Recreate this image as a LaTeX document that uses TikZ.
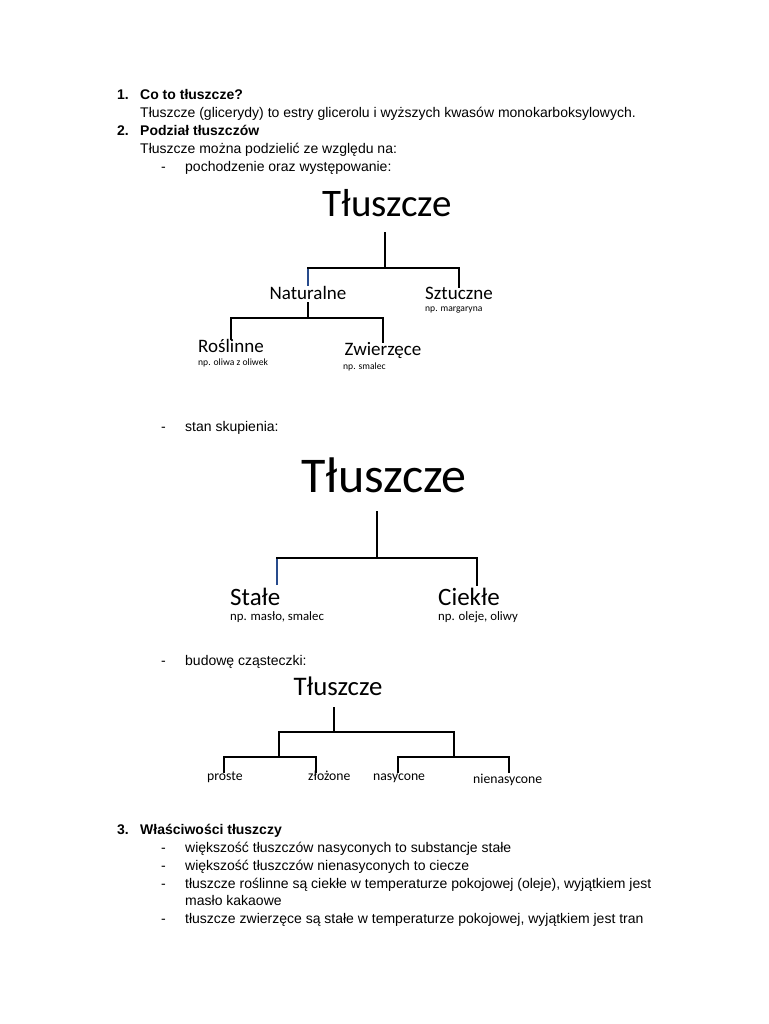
\documentclass[tikz,border=0pt]{standalone}
\usepackage{fontspec}
\setmainfont{Liberation Sans}
\newfontfamily\calibri{Carlito}
\usetikzlibrary{positioning}
\definecolor{treeblue}{RGB}{40,75,140}

\tikzset{
  txt/.style={anchor=base west, inner sep=0pt, font=\fontsize{14}{16}\selectfont},
  head/.style={txt, font=\fontsize{14}{16}\selectfont\bfseries},
  root/.style={anchor=base, inner sep=0pt},
  kind/.style={anchor=base, inner sep=0pt, font=\calibri\fontsize{19}{19}\selectfont},
  ex/.style={anchor=base west, inner sep=0pt, font=\calibri\fontsize{9.6}{10}\selectfont},
  branch/.style={line width=2.3pt, line cap=rect},
}

\begin{document}
\begin{tikzpicture}[x=1pt,y=-1pt]
\useasboundingbox[fill=white] (0,0) rectangle (768,1024);

% --- 1. Co to tluszcze ---
\node[head] (n1) at (117,100) {1.};
\node[head] (h1) at (140,100) {Co to tłuszcze?};
\node[txt] (def) at (140,118) {Tłuszcze (glicerydy) to estry glicerolu i wyższych kwasów monokarboksylowych.};

% --- 2. Podzial ---
\node[head] (n2) at (117,136) {2.};
\node[head] (h2) at (140,136) {Podział tłuszczów};
\node[txt] (intro) at (140,154) {Tłuszcze można podzielić ze względu na:};
\node[txt] (d1) at (161,172) {-};
\node[txt] (c1) at (185,172) {pochodzenie oraz występowanie:};

% Tree 1: pochodzenie
\node[root, font=\calibri\fontsize{39}{39}\selectfont] (t1) at (387,217) {Tłuszcze};
\node[kind] (nat) at (308,299) {Naturalne};
\node[kind] (szt) at (459,299) {Sztuczne};
\node[ex] (sztex) at (425,311) {np. margaryna};
\node[kind] (ros) at (231,352) {Roślinne};
\node[ex] (rosex) at (198,365) {np. oliwa z oliwek};
\node[kind] (zw) at (383,355) {Zwierzęce};
\node[ex] (zwex) at (343,369) {np. smalec};

\coordinate (t1s) at (385,233);
\coordinate (j1) at (385,268);
\coordinate (j2) at (308,318);
\draw[branch] (t1s) -- (j1);
\draw[line width=2.3pt, treeblue] (nat.north) -- (nat.north |- j1);
\draw[branch] (nat.north |- j1) -- (j1) -| (szt.north);
\draw[branch, shorten <=4pt] (nat.south) -- (j2);
\draw[branch] (ros.north) |- (j2) -| (zw.north);

% Tree 2: stan skupienia
\node[txt] (d2) at (161,431) {-};
\node[txt] (c2) at (185,431) {stan skupienia:};
\node[root, font=\calibri\fontsize{50}{50}\selectfont] (t2) at (384,492) {Tłuszcze};
\node[anchor=base west, inner sep=0pt, font=\calibri\fontsize{25}{25}\selectfont] (sta) at (230,605) {Stałe};
\node[anchor=base west, inner sep=0pt, font=\calibri\fontsize{12.8}{13}\selectfont] (staex) at (230,620) {np. masło, smalec};
\node[anchor=base west, inner sep=0pt, font=\calibri\fontsize{25}{25}\selectfont] (cie) at (438,605) {Ciekłe};
\node[anchor=base west, inner sep=0pt, font=\calibri\fontsize{12.8}{13}\selectfont] (cieex) at (438,620) {np. oleje, oliwy};

\coordinate (t2s) at (377,512);
\coordinate (j3) at (377,558);
\coordinate (staN) at (277,585);
\coordinate (cieN) at (477,585);
\draw[branch, line width=2.6pt] (t2s) -- (j3);
\draw[line width=2.6pt, treeblue] (staN) -- (staN |- j3);
\draw[branch, line width=2.6pt] (staN |- j3) -- (j3) -| (cieN);

% Tree 3: budowa czasteczki
\node[txt] (d3) at (161,665) {-};
\node[txt] (c3) at (185,665) {budowę cząsteczki:};
\node[root, font=\calibri\fontsize{26.8}{27}\selectfont] (t3) at (338,695) {Tłuszcze};
\node[anchor=base west, inner sep=0pt, font=\calibri\fontsize{13.7}{14}\selectfont] (pro) at (207,780) {proste};
\node[anchor=base west, inner sep=0pt, font=\calibri\fontsize{13.7}{14}\selectfont] (zlo) at (308,780) {złożone};
\node[anchor=base west, inner sep=0pt, font=\calibri\fontsize{13.7}{14}\selectfont] (nas) at (373,780) {nasycone};
\node[anchor=base west, inner sep=0pt, font=\calibri\fontsize{13.7}{14}\selectfont] (nnas) at (473,783) {nienasycone};

\coordinate (t3s) at (334,708);
\coordinate (j4) at (334,732);
\coordinate (jl) at (279,757);
\coordinate (jr) at (454,757);
\coordinate (proN) at (224,772);
\coordinate (zloN) at (316,772);
\coordinate (nasN) at (398,772);
\coordinate (nnasN) at (509,772);
\draw[branch, line width=1.9pt] (t3s) -- (j4);
\draw[branch, line width=1.9pt] (jl) |- (j4) -| (jr);
\draw[branch, line width=1.9pt] (proN) |- (jl) -| (zloN);
\draw[branch, line width=1.9pt] (nasN) |- (jr) -| (nnasN);

% --- 3. Wlasciwosci ---
\node[head] (n3) at (117,834) {3.};
\node[head] (h3) at (140,834) {Właściwości tłuszczy};
\node[txt] (d4) at (161,852) {-};
\node[txt] (p1) at (185,852) {większość tłuszczów nasyconych to substancje stałe};
\node[txt] (d5) at (161,870) {-};
\node[txt] (p2) at (185,870) {większość tłuszczów nienasyconych to ciecze};
\node[txt] (d6) at (161,888) {-};
\node[txt] (p3) at (185,888) {tłuszcze roślinne są ciekłe w temperaturze pokojowej (oleje), wyjątkiem jest};
\node[txt] (p3b) at (185,905) {masło kakaowe};
\node[txt] (d7) at (161,923) {-};
\node[txt] (p4) at (185,923) {tłuszcze zwierzęce są stałe w temperaturze pokojowej, wyjątkiem jest tran};

\end{tikzpicture}
\end{document}
